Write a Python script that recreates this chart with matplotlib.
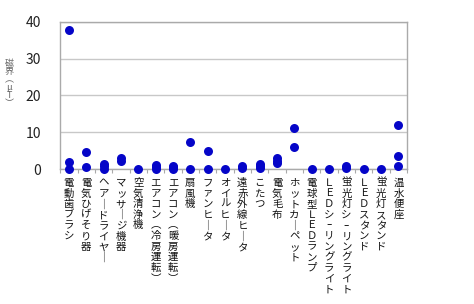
import numpy as np
import matplotlib.pyplot as plt

plt.rcParams['font.family'] = ['Noto Sans CJK JP', 'DejaVu Sans']

# 機器名（縦書き用）
categories = ['電動歯ブラシ', '電気ひげそり器', 'ヘア｜ドライヤ｜', 'マッサ｜ジ機器', '空気清浄機',
              'エアコン︵冷房運転︶', 'エアコン︵暖房運転︶', '扇風機', 'ファンヒ｜タ', 'オイルヒ｜タ',
              '遠赤外線ヒ｜タ', 'こたつ', '電気毛布', 'ホットカ｜ペット', '電球型ＬＥＤランプ',
              'ＬＥＤシｰリングライト', '蛍光灯シｰリングライト', 'ＬＥＤスタンド', '蛍光灯スタンド', '温水便座']

# 各機器の測定値（μT）
values = [
    [37.8, 1.8, 0.1],
    [4.5, 0.5],
    [1.3, 0.7, 0.1],
    [2.9, 2.1],
    [0.1],
    [1.0, 0.6, 0.1],
    [0.9, 0.5, 0.1],
    [7.3, 0.1],
    [4.8, 0.1],
    [0.1],
    [0.8, 0.3],
    [1.3, 0.8, 0.3],
    [2.9, 2.3, 1.7],
    [11.1, 6.0],
    [0.1],
    [0.1],
    [0.7, 0.3],
    [0.1],
    [0.1],
    [11.9, 3.6, 0.9],
]

fig = plt.figure(figsize=(4.74, 3.04), dpi=100)
ax = fig.add_axes([0.127, 0.444, 0.732, 0.484])

for i, vals in enumerate(values):
    ax.scatter([i] * len(vals), vals, s=42, color='#0505C8', clip_on=False, zorder=3, linewidths=0)

ax.set_xlim(-0.5, len(categories) - 0.5)
ax.set_ylim(0, 40)
ax.set_yticks([0, 10, 20, 30, 40])
ax.yaxis.grid(True, color='#C8C8C8', linewidth=1)
ax.set_axisbelow(True)
ax.tick_params(axis='y', length=0, labelsize=10, pad=14, labelcolor='#222222')

ax.set_xticks(np.arange(len(categories) + 1) - 0.5, minor=False)
ax.set_xticklabels([])
ax.tick_params(axis='x', length=3, color='#AAAAAA', direction='out')
for i, c in enumerate(categories):
    ax.text(i, -2.4, '\n'.join(c), ha='center', va='top', fontsize=7.5,
            linespacing=1.08, color='#111111')

for s in ['left', 'top', 'right', 'bottom']:
    ax.spines[s].set_color('#AAAAAA')
    ax.spines[s].set_linewidth(1)

fig.text(0.02, 0.725, '\n'.join('磁界︵μT︶'), ha='center', va='center', fontsize=6.5,
         linespacing=0.85, color='#666666')

fig.savefig('out.png', dpi=100)
